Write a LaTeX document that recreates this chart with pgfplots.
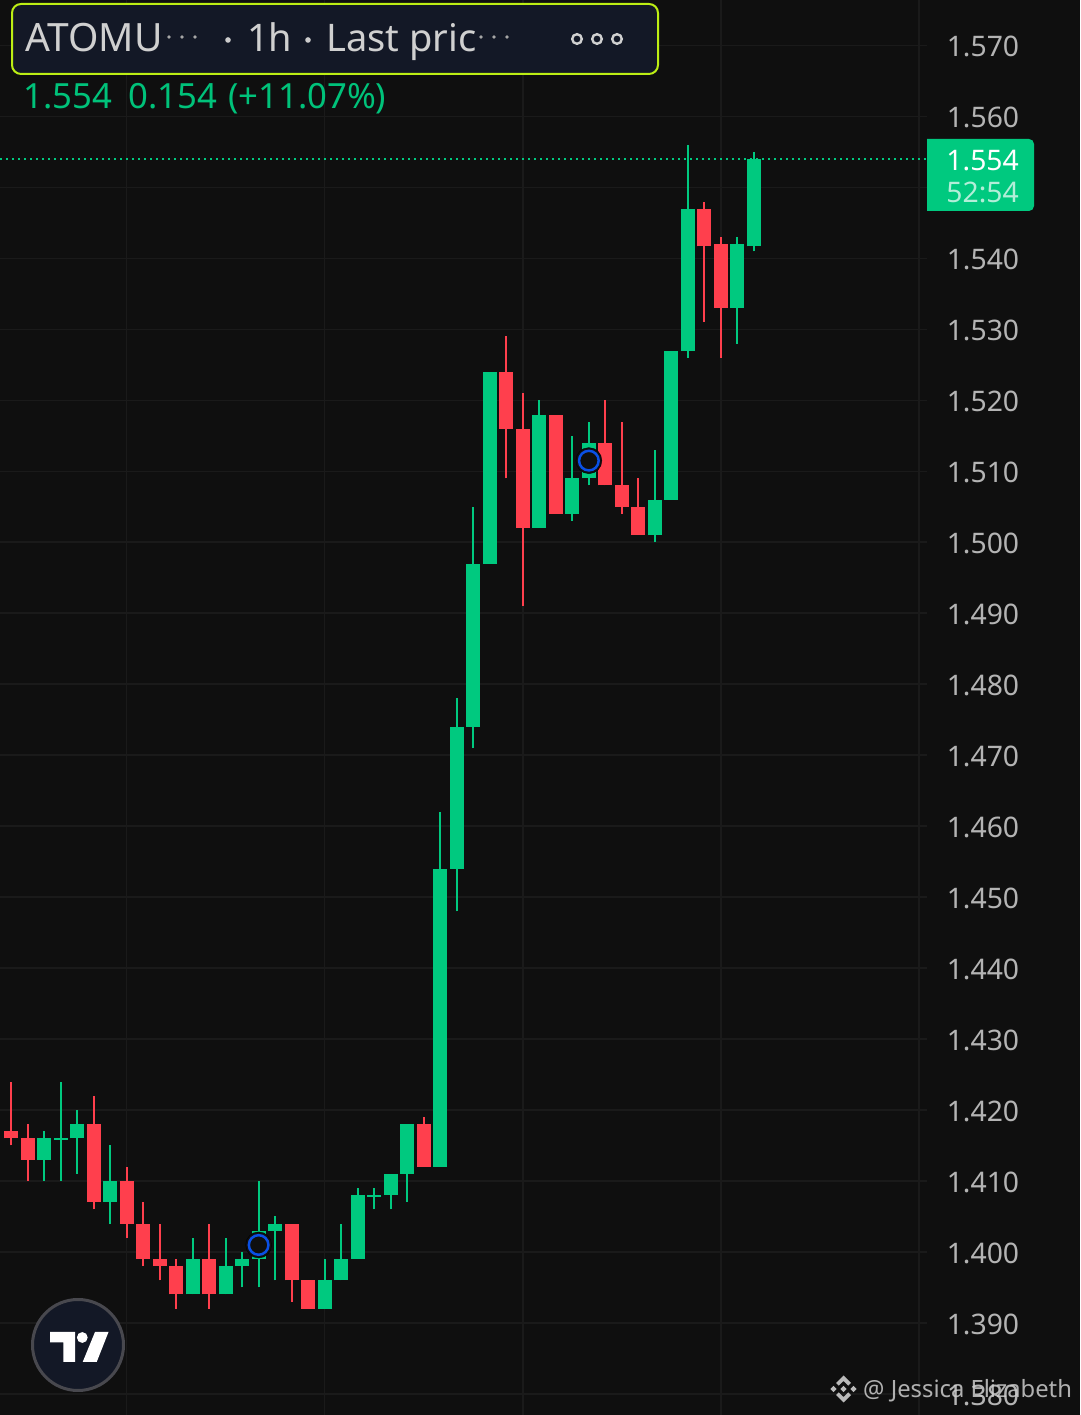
\documentclass[border=0pt]{standalone}
\usepackage{pgfplots}
\usepackage{pgfplotstable}
\usepackage{fontspec}
\setmainfont{Noto Sans}
\pgfplotsset{compat=1.18}
\definecolor{bg}{HTML}{0F0F0F}
\definecolor{gridc}{HTML}{1A1A1A}
\definecolor{cg}{HTML}{00C97F}
\definecolor{cr}{HTML}{FF3F4D}
\definecolor{txtg}{HTML}{00C27A}
\definecolor{tick}{HTML}{B4B4B4}
\definecolor{headbg}{HTML}{131826}
\definecolor{lime}{HTML}{BCEE14}
\definecolor{ringb}{HTML}{0A50E6}
\pgfplotstableread{
i o h l c
0 1.417 1.424 1.415 1.416
1 1.416 1.418 1.410 1.413
5 1.418 1.422 1.406 1.407
7 1.410 1.412 1.402 1.404
8 1.404 1.407 1.398 1.399
9 1.399 1.404 1.396 1.398
10 1.398 1.399 1.392 1.394
12 1.399 1.404 1.392 1.394
17 1.404 1.404 1.393 1.396
18 1.396 1.396 1.392 1.392
25 1.418 1.419 1.412 1.412
30 1.524 1.529 1.509 1.516
31 1.516 1.521 1.491 1.502
33 1.518 1.518 1.504 1.504
36 1.514 1.520 1.508 1.508
37 1.508 1.517 1.504 1.505
38 1.505 1.509 1.501 1.501
42 1.547 1.548 1.531 1.5417
43 1.542 1.543 1.526 1.533
}\downcandles
\pgfplotstableread{
i o h l c
2 1.413 1.417 1.410 1.416
3 1.4158 1.424 1.410 1.416
4 1.416 1.420 1.411 1.418
6 1.407 1.415 1.404 1.410
11 1.394 1.402 1.394 1.399
13 1.394 1.402 1.394 1.398
14 1.398 1.400 1.395 1.399
15 1.399 1.410 1.395 1.403
16 1.403 1.405 1.396 1.404
19 1.392 1.399 1.392 1.396
20 1.396 1.404 1.396 1.399
21 1.399 1.409 1.399 1.408
22 1.4078 1.409 1.406 1.408
23 1.408 1.411 1.406 1.411
24 1.411 1.418 1.407 1.418
26 1.412 1.462 1.412 1.454
27 1.454 1.478 1.448 1.474
28 1.474 1.505 1.471 1.497
29 1.497 1.524 1.497 1.524
32 1.502 1.520 1.502 1.518
34 1.504 1.515 1.503 1.509
35 1.509 1.517 1.508 1.514
39 1.501 1.513 1.500 1.506
40 1.506 1.527 1.506 1.527
41 1.527 1.556 1.526 1.547
44 1.533 1.543 1.528 1.542
45 1.5417 1.555 1.541 1.554
}\upcandles
\newcommand{\fs}[1]{\fontsize{#1}{#1}\selectfont}
\begin{document}
\begin{tikzpicture}
\path[use as bounding box] (0,0) rectangle (1080pt,1415pt);
\fill[bg] (0,0) rectangle (1080pt,1415pt);
\begin{axis}[
  at={(0,0)}, anchor=south west, scale only axis,
  width=927pt, height=1415pt,
  xmin=-0.666, xmax=55.48, ymin=1.37702, ymax=1.57641,
  axis line style={draw=none}, major tick length=0pt,
  grid=major, grid style={line width=1.5pt, color=gridc},
  xtick={7,19,31,43,55}, xticklabels={},
  ytick={1.38,1.39,1.40,1.41,1.42,1.43,1.44,1.45,1.46,1.47,1.48,1.49,1.50,1.51,1.52,1.53,1.54,1.56,1.57},
  extra y ticks={1.55}, extra y tick labels={},
  extra y tick style={grid=major},
  yticklabel pos=right, scaled y ticks=false,
  yticklabel style={anchor=west, inner sep=0pt, xshift=19.6pt, yshift=-1.3pt, color=tick,
    font=\fs{28.3}, /pgf/number format/.cd, fixed, fixed zerofill, precision=3, assume math mode=true},
]
% last price line
\addplot[cg, line width=1.6pt, dash pattern=on 2pt off 4pt, forget plot] coordinates {(-0.666,1.554)(55.48,1.554)};
% wicks
\addplot[cr, line width=2pt, forget plot, quiver={u=0, v=\thisrow{h}-\thisrow{l}}] table[x=i, y=l] {\downcandles};
\addplot[cg, line width=2pt, forget plot, quiver={u=0, v=\thisrow{h}-\thisrow{l}}] table[x=i, y=l] {\upcandles};
% bodies
\addplot[cr, line width=14pt, forget plot, quiver={u=0, v=\thisrow{o}-\thisrow{c}}] table[x=i, y=c] {\downcandles};
\addplot[cg, line width=14pt, forget plot, quiver={u=0, v=\thisrow{c}-\thisrow{o}}] table[x=i, y=o] {\upcandles};
% event markers
\addplot[only marks, mark=*, mark size=13pt, mark options={draw=none, fill=bg}, forget plot] coordinates {(15,1.40098)(35,1.5115)};
\addplot[only marks, mark=*, mark size=9.8pt, mark options={draw=ringb, line width=2.5pt, fill=bg}, forget plot] coordinates {(15,1.40098)(35,1.5115)};
\end{axis}
\begin{scope}[x=1pt, y=-1pt, yshift=1415pt]
  % price label
  \fill[cg] (927,139) [rounded corners=5pt] -- (1034,139) -- (1034,211) [sharp corners] -- (927,211) -- cycle;
  \node[anchor=base east, inner sep=0pt, text=white, font=\fs{28.3}] at (1019,171) {1.554};
  \node[anchor=base east, inner sep=0pt, text={rgb,255:red,178;green,238;blue,216}, font=\fs{28.3}] at (1019,203) {52:54};
  % header
  \draw[lime, line width=2pt, fill=headbg, rounded corners=9pt] (12,4) rectangle (658,74);
  \begin{scope}[every node/.style={anchor=base west, inner sep=0pt, text={rgb,255:red,208;green,208;blue,208}}]
    \node[font=\fs{39}] at (25,52) {ATOMU};
    \node[font=\fs{38}] at (247,52) {1h};
    \node[font=\fs{38}] at (326,52) {Last pric};
  \end{scope}
  \foreach \x in {169,182,195, 481,494,507} \fill[gray!70!white] (\x,37) circle[radius=1.8];
  \fill[gray!40!white] (228,40) circle[radius=2.8];
  \fill[gray!40!white] (308,40) circle[radius=2.8];
  \foreach \x in {577,597,617} \draw[line width=2.4pt, color={rgb,255:red,208;green,208;blue,208}] (\x,39) circle[radius=4.8];
  % values
  \begin{scope}[every node/.style={anchor=base west, inner sep=0pt, text=txtg, font=\fs{34.7}}]
    \node at (23.5,109) {1.554};
    \node at (128.5,109) {0.154};
    \node at (228,109) {(+11.07\%)};
  \end{scope}
  % logo
  \draw[line width=3pt, color={rgb,255:red,72;green,72;blue,78}, fill=headbg] (78,1345) circle[radius=45.5];
  \fill[white] (50,1332) -- (75,1332) -- (75,1362) -- (63.3,1362) -- (63.3,1342.5) -- (50,1342.5) -- cycle;
  \fill[white] (82.3,1337.5) circle[radius=5.4];
  \fill[white] (95,1332) -- (108.5,1332) -- (96.7,1362) -- (82.7,1362) -- cycle;
  % watermark
  \begin{scope}[shift={(843.5,1389)}, color={rgb,255:red,205;green,205;blue,205}]
    \fill[fill opacity=0.9, shift={(-10,0)}] (-3.2,0)--(0,-3.2)--(3.2,0)--(0,3.2)--cycle;
    \fill[fill opacity=0.9, shift={(10,0)}] (-3.2,0)--(0,-3.2)--(3.2,0)--(0,3.2)--cycle;
    \fill[fill opacity=0.9] (-3.2,0)--(0,-3.2)--(3.2,0)--(0,3.2)--cycle;
    \fill[fill opacity=0.9] (0,-13.5)--(7.5,-6)--(4.7,-3.4)--(0,-8)--(-4.7,-3.4)--(-7.5,-6)--cycle;
    \fill[fill opacity=0.9] (0,13.5)--(7.5,6)--(4.7,3.4)--(0,8)--(-4.7,3.4)--(-7.5,6)--cycle;
  \end{scope}
  \node[anchor=base west, inner sep=0pt, text opacity=0.85, text={rgb,255:red,205;green,205;blue,205}, font=\fs{23.8}] at (863,1398) {@ Jessica Elizabeth};
\end{scope}
\end{tikzpicture}
\end{document}
